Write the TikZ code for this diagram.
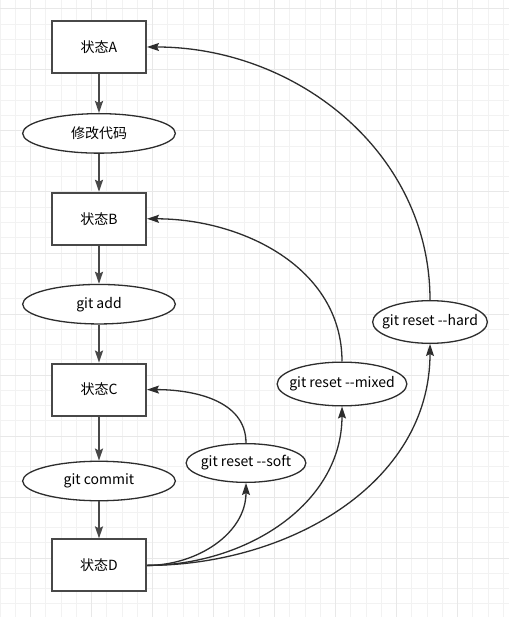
\documentclass[tikz,border=0pt]{standalone}
\usepackage{fontspec}
\setmainfont{Noto Sans CJK SC}
\usetikzlibrary{positioning}
\usetikzlibrary{shapes.geometric}
\usetikzlibrary {arrows.meta}
\definecolor{gridminor}{RGB}{242,242,242}
\definecolor{gridmajor}{RGB}{232,232,232}
\definecolor{boxgray}{RGB}{72,72,72}
\definecolor{edgegray}{RGB}{45,45,45}
\newcommand{\dashdash}{-\kern0pt-}
\tikzset{gitstate/.style={rectangle,draw=boxgray,fill=white,line width=2pt,
inner sep=2pt,minimum height=52pt, minimum width=94pt}}
\tikzset{gitstep/.style={ellipse,draw=edgegray,fill=white,line width=1.3pt,
inner sep=0pt,inner xsep=-20pt,minimum height=39.5pt, minimum width=152.7pt}}
\tikzset{gitreset/.style={ellipse,draw=edgegray,fill=white,line width=1.3pt,
inner sep=0pt,inner xsep=-20pt}}
\tikzset{stepline/.style={draw=boxgray,line width=2pt,-{Stealth[length=12pt,width=8pt,inset=2pt]}}}
\tikzset{resetline/.style={draw=edgegray,line width=1.3pt,-{Stealth[length=12pt,width=8pt,inset=2pt]}}}

\begin{document}
\begin{tikzpicture}[x=1pt,y=-1pt,font=\fontsize{14pt}{16pt}\selectfont]

        \fill[white] (0,0) rectangle (509,617);
        \useasboundingbox (0,0) rectangle (509,617);
        \foreach \k in {0,...,33}
            \draw[gridminor,line width=1pt] (15.25*\k,0) -- (15.25*\k,617);
        \foreach \k in {0,...,39}
            \draw[gridminor,line width=1pt] (0,9+15.25*\k) -- (509,9+15.25*\k);
        \foreach \k in {0,...,7}
            \draw[gridmajor,line width=1pt] (30.5+61*\k,0) -- (30.5+61*\k,617);
        \foreach \k in {0,...,9}
            \draw[gridmajor,line width=1pt] (0,9+61*\k) -- (509,9+61*\k);

        \node[gitstate] (stateA) at (99,47) {状态A};
        \node[gitstep] (editcode) [below=39pt of stateA] {修改代码};
        \node[gitstate] (stateB) [below=38pt of editcode] {状态B};
        \node[gitstep] (gitadd) [below=38pt of stateB] {git add};
        \node[gitstate] (stateC) [below=38pt of gitadd] {状态C};
        \node[gitstep] (gitcommit) [below=44pt of stateC] {git commit};
        \node[gitstate] (stateD) [below=37pt of gitcommit] {状态D};

        \node[gitreset,minimum width=119.7pt,minimum height=38.7pt] (resetsoft) at (246,463) {git reset \dashdash soft};
        \node[gitreset,minimum width=129.7pt,minimum height=43.7pt] (resetmixed) at (342,384) {git reset \dashdash mixed};
        \node[gitreset,minimum width=114.7pt,minimum height=42.7pt] (resethard) at (430,322) {git reset \dashdash hard};

        \draw[stepline] (stateA) -- (editcode);
        \draw[stepline] (editcode) -- (stateB);
        \draw[stepline] (stateB) -- (gitadd);
        \draw[stepline] (gitadd) -- (stateC);
        \draw[stepline] (stateC) -- (gitcommit);
        \draw[stepline] (gitcommit) -- (stateD);

        \draw[resetline] (stateD.east) to[out=0,in=-90] (resetsoft.south);
        \draw[resetline] (stateD.east) to[out=0,in=-90] (resetmixed.south);
        \draw[resetline] (stateD.east) to[out=0,in=-90] (resethard.south);

        \draw[resetline] (resetsoft.north) to[out=90,in=0] (stateC.east);
        \draw[resetline] (resetmixed.north) to[out=90,in=0] (stateB.east);
        \draw[resetline] (resethard.north) to[out=90,in=0] (stateA.east);

\end{tikzpicture}
\end{document}
